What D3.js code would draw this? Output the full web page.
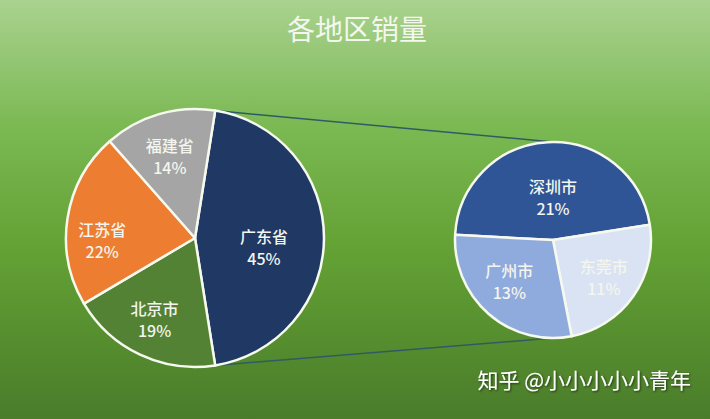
<!DOCTYPE html>
<html><head><meta charset="utf-8">
<script src="https://cdn.jsdelivr.net/npm/d3@7"></script>
<style>
html,body{margin:0;padding:0;background:#fff;}
svg{display:block;}
</style></head>
<body>
<svg id="c" width="710" height="419"></svg>
<script>
// ---- data ----
const title = "各地区销量";
const regions = ["广东省", "北京市", "江苏省", "福建省"];
const regionShare = [45, 19, 22, 14];
const cities = ["深圳市", "东莞市", "广州市"];
const cityShare = [21, 11, 13];
const watermark = "知乎 @小小小小小青年";

// ---- styles / layout ----
const W = 710, H = 419;
const font = "'Noto Sans CJK SC','Noto Sans',sans-serif";
const regionColors = ["#1f3864", "#548235", "#ed7d31", "#a5a5a5"];
const cityColors = ["#2f5597", "#dae3f3", "#8faadc"];
// label placement: [fraction of radius, angle offset from slice middle in degrees]
const regionLabelPos = [[0.54, 8], [0.71, 1], [0.72, -11], [0.66, -1]];
const cityLabelPos = [[0.43, 3], [0.65, 2], [0.62, 5]];
const L = {cx: 195, cy: 238, r: 129};
const R = {cx: 553, cy: 240, r: 98};
const deg = Math.PI / 180;

const svg = d3.select("#c");
const defs = svg.append("defs");
const grad = defs.append("linearGradient").attr("id", "bg")
  .attr("x1", 0).attr("y1", 0).attr("x2", 0).attr("y2", 1);
[[0, "#a9d28f"], [0.3, "#7bb953"], [0.6, "#63a134"], [1, "#4a7c2a"]].forEach(([o, c]) =>
  grad.append("stop").attr("offset", o).attr("stop-color", c));
const sh = defs.append("filter").attr("id", "ts").attr("x", "-10%").attr("y", "-30%").attr("width", "120%").attr("height", "160%");
sh.append("feDropShadow").attr("dx", 1).attr("dy", 1).attr("stdDeviation", 0.8).attr("flood-color", "#000").attr("flood-opacity", 0.6);

svg.append("rect").attr("width", W).attr("height", H).attr("fill", "url(#bg)");

svg.append("text").attr("x", 357).attr("y", 32).attr("text-anchor", "middle")
  .attr("dominant-baseline", "middle").attr("font-family", font).attr("font-size", 28)
  .attr("fill", "#f4f7ee").text(title);

// left pie: split slice (first) centered on the right side
const total = d3.sum(regionShare);
const split = regionShare[0] / total * 2 * Math.PI;
const start = Math.PI / 2 - split / 2;
const pieL = d3.pie().sort(null).startAngle(start).endAngle(start + 2 * Math.PI)(regionShare);
const arcL = d3.arc().innerRadius(0).outerRadius(L.r);

// connector lines
const a0 = pieL[0].startAngle, a1 = pieL[0].endAngle;
const pt = a => [L.cx + L.r * Math.sin(a), L.cy - L.r * Math.cos(a)];
const conn = [[pt(a0), [R.cx, R.cy - R.r]], [pt(a1), [R.cx, R.cy + R.r]]];
svg.append("g").selectAll("line").data(conn).join("line")
  .attr("x1", d => d[0][0]).attr("y1", d => d[0][1])
  .attr("x2", d => d[1][0]).attr("y2", d => d[1][1])
  .attr("stroke", "#2f5b66").attr("stroke-width", 1.5);

const gL = svg.append("g").attr("transform", `translate(${L.cx},${L.cy})`);
gL.selectAll("path").data(pieL).join("path")
  .attr("d", arcL).attr("fill", (d, i) => regionColors[i])
  .attr("stroke", "#f6f9ee").attr("stroke-width", 2.5).attr("stroke-linejoin", "round");

function labels(g, pie, names, r, pos) {
  pie.forEach((d, i) => {
    const a = (d.startAngle + d.endAngle) / 2 + pos[i][1] * deg;
    const rr = r * pos[i][0];
    const x = rr * Math.sin(a), y = -rr * Math.cos(a);
    const t = g.append("text").attr("text-anchor", "middle").attr("font-family", font)
      .attr("font-size", 16).attr("font-weight", 500).attr("fill", "#f3f5ee");
    t.append("tspan").attr("x", x).attr("y", y - 5).text(names[i]);
    t.append("tspan").attr("x", x).attr("y", y + 17).text(d.value + "%");
  });
}
labels(gL, pieL, regions, L.r, regionLabelPos);

// right pie
const rs = -87 * deg;
const pieR = d3.pie().sort(null).startAngle(rs).endAngle(rs + 2 * Math.PI)(cityShare);
const arcR = d3.arc().innerRadius(0).outerRadius(R.r);
const gR = svg.append("g").attr("transform", `translate(${R.cx},${R.cy})`);
gR.selectAll("path").data(pieR).join("path")
  .attr("d", arcR).attr("fill", (d, i) => cityColors[i])
  .attr("stroke", "#f6f9ee").attr("stroke-width", 2.5).attr("stroke-linejoin", "round");
labels(gR, pieR, cities, R.r, cityLabelPos);

svg.append("text").attr("x", 691).attr("y", 388).attr("text-anchor", "end")
  .attr("font-family", font).attr("font-size", 21).attr("fill", "#ffffff")
  .attr("filter", "url(#ts)").text(watermark);
</script>
</body></html>
